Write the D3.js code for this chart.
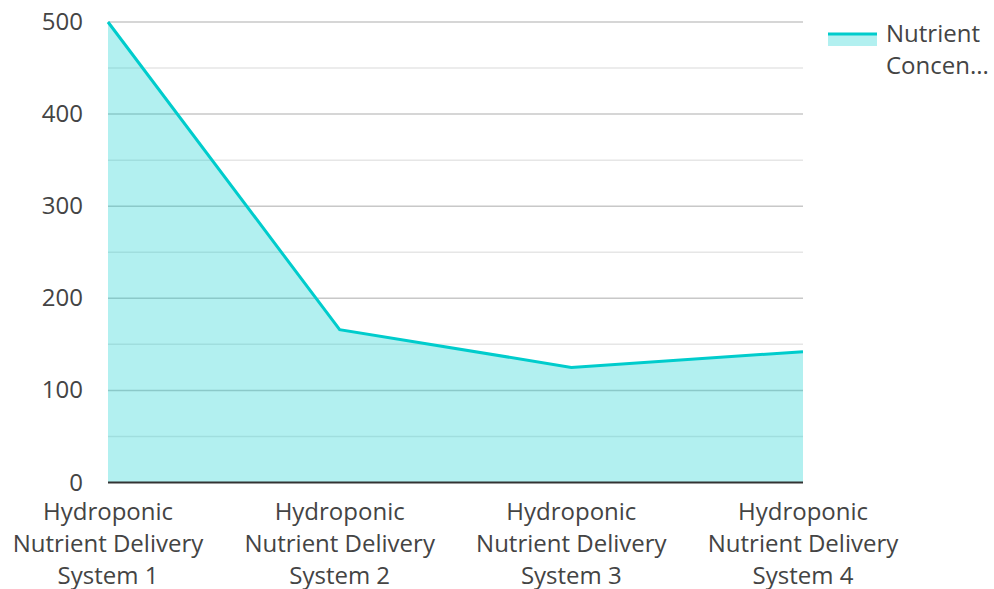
<!DOCTYPE html>
<html>
<head>
<meta charset="utf-8">
<script src="https://cdn.jsdelivr.net/npm/d3@7"></script>
<style>
  body { margin: 0; background: #fff; }
  text { font-family: "Open Sans", "Noto Sans", sans-serif; fill: #444; }
</style>
</head>
<body>
<div id="chart"></div>
<script>
var categories = [
	["Hydroponic", "Nutrient Delivery", "System 1"],
	["Hydroponic", "Nutrient Delivery", "System 2"],
	["Hydroponic", "Nutrient Delivery", "System 3"],
	["Hydroponic", "Nutrient Delivery", "System 4"]
];
var values = [500, 166, 125, 142];
var yTicks = [0, 100, 200, 300, 400, 500];
var yMinorTicks = [50, 150, 250, 350, 450];
var seriesName = ["Nutrient", "Concen..."];

var width = 994, height = 589;
var plotLeft = 108, plotRight = 803, plotTop = 22, plotBottom = 482.5;
var color = "#00cccc";
var fontSize = "24px";

var svg = d3.select("#chart").append("svg")
	.attr("width", width)
	.attr("height", height);

var x = d3.scalePoint()
	.domain(d3.range(categories.length))
	.range([plotLeft, plotRight]);

var y = d3.scaleLinear()
	.domain([0, 500])
	.range([plotBottom, plotTop]);

// grid
svg.append("g").selectAll("line")
	.data(yMinorTicks)
	.enter().append("line")
	.attr("x1", plotLeft).attr("x2", plotRight)
	.attr("y1", function(d) { return y(d) })
	.attr("y2", function(d) { return y(d) })
	.attr("stroke", "#e6e6e6")
	.attr("stroke-width", 1.5);

svg.append("g").selectAll("line")
	.data(yTicks.slice(1))
	.enter().append("line")
	.attr("x1", plotLeft).attr("x2", plotRight)
	.attr("y1", function(d) { return y(d) })
	.attr("y2", function(d) { return y(d) })
	.attr("stroke", "#c8c8c8")
	.attr("stroke-width", 1.5);

// area + line
var area = d3.area()
	.x(function(d, i) { return x(i) })
	.y0(plotBottom)
	.y1(function(d) { return y(d) });

var line = d3.line()
	.x(function(d, i) { return x(i) })
	.y(function(d) { return y(d) });

svg.append("path")
	.datum(values)
	.attr("d", area)
	.attr("fill", color)
	.attr("fill-opacity", 0.3);

svg.append("path")
	.datum(values)
	.attr("d", line)
	.attr("fill", "none")
	.attr("stroke", color)
	.attr("stroke-width", 3);

// baseline
svg.append("line")
	.attr("x1", plotLeft).attr("x2", plotRight)
	.attr("y1", plotBottom).attr("y2", plotBottom)
	.attr("stroke", "#333")
	.attr("stroke-width", 2);

// y axis labels
svg.append("g").selectAll("text")
	.data(yTicks)
	.enter().append("text")
	.attr("x", 83)
	.attr("y", function(d) { return y(d) + 8 })
	.attr("text-anchor", "end")
	.style("font-size", fontSize)
	.text(function(d) { return d });

// x axis labels
var xLabels = svg.append("g").selectAll("text")
	.data(categories)
	.enter().append("text")
	.attr("text-anchor", "middle")
	.attr("transform", function(d, i) { return "translate(" + x(i) + ",520)" })
	.style("font-size", fontSize);

xLabels.selectAll("tspan")
	.data(function(d) { return d })
	.enter().append("tspan")
	.attr("x", 0)
	.attr("y", function(d, i) { return i * 32 })
	.text(function(d) { return d });

// legend
var legend = svg.append("g");
legend.append("rect")
	.attr("x", 828).attr("y", 33)
	.attr("width", 49).attr("height", 13)
	.attr("fill", color)
	.attr("fill-opacity", 0.3);
legend.append("line")
	.attr("x1", 828).attr("x2", 877)
	.attr("y1", 34).attr("y2", 34)
	.attr("stroke", color)
	.attr("stroke-width", 3);
legend.append("text")
	.attr("x", 886).attr("y", 42)
	.style("font-size", fontSize)
	.selectAll("tspan")
	.data(seriesName)
	.enter().append("tspan")
	.attr("x", 886)
	.attr("dy", function(d, i) { return i ? 32 : 0 })
	.text(function(d) { return d });
</script>
</body>
</html>
